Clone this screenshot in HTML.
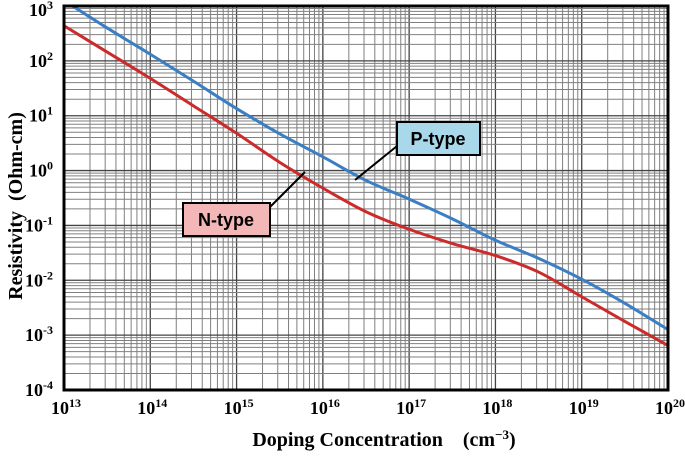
<!DOCTYPE html>
<html><head><meta charset="utf-8"><style>
body{margin:0;background:#fff}
text{font-family:"Liberation Serif",serif;font-weight:bold;white-space:pre}
</style></head><body>
<svg id="chart" width="685" height="452" viewBox="0 0 685 452" xmlns="http://www.w3.org/2000/svg">
<g id="grid"></g>
<g id="curves"></g>
<rect x="64" y="6" width="604" height="384" fill="none" stroke="#000" stroke-width="3"/>
<g id="labels"></g>
<text transform="translate(22,206) rotate(-90)" text-anchor="middle" font-size="20" xml:space="preserve">Resistivity  (Ohm-cm)</text>
<text x="384" y="446" text-anchor="middle" font-size="20" xml:space="preserve">Doping Concentration    (cm<tspan baseline-shift="super" font-size="13">−3</tspan>)</text>
<line x1="402" y1="142" x2="355" y2="180" stroke="#000" stroke-width="2"/>
<line x1="265" y1="212" x2="305" y2="172" stroke="#000" stroke-width="2"/>
<g>
<rect x="397" y="122" width="83" height="33" fill="#a8d8ea" stroke="#000" stroke-width="2"/>
<text x="438" y="145" text-anchor="middle" font-size="18" style="font-family:'Liberation Sans',sans-serif">P-type</text></g>
<g>
<rect x="183" y="203" width="87" height="33" fill="#f4b7b7" stroke="#000" stroke-width="2"/>
<text x="226" y="226" text-anchor="middle" font-size="18" style="font-family:'Liberation Sans',sans-serif">N-type</text></g>
</svg>
<script>
const dopingLog = [13,13.5,14,14.5,15,15.5,16,16.5,17,17.5,18,18.5,19,19.5,20];
const pTypeLog = [3.1,2.6,2.12,1.63,1.13,0.67,0.25,-0.18,-0.52,-0.88,-1.27,-1.6,-1.98,-2.42,-2.9];
const nTypeLog = [2.64,2.16,1.68,1.18,0.68,0.15,-0.32,-0.75,-1.07,-1.33,-1.55,-1.85,-2.3,-2.75,-3.19];
const xDecades = [13,14,15,16,17,18,19,20];
const yDecades = [3,2,1,0,-1,-2,-3,-4];
const X0=64,X1=668,Y0=6,Y1=390;
const xs=v=>X0+(v-13)/7*(X1-X0);
const ys=v=>Y0+(3-v)/7*(Y1-Y0);
const NS="http://www.w3.org/2000/svg";
const grid=document.getElementById('grid');
function ln(x1,y1,x2,y2,c,w){const l=document.createElementNS(NS,'line');l.setAttribute('x1',x1);l.setAttribute('y1',y1);l.setAttribute('x2',x2);l.setAttribute('y2',y2);l.setAttribute('stroke',c);l.setAttribute('stroke-width',w);grid.appendChild(l);return l;}
for(let d=13;d<20;d++)for(let m=1;m<10;m++){const x=xs(d+Math.log10(m));const l=ln(x,Y0,x,Y1,m==1?'#444':'#808080',m==1?1.3:1);

}
for(let d=-4;d<3;d++)for(let m=1;m<10;m++){const y=ys(d+Math.log10(m));const l=ln(X0,y,X1,y,m==1?'#444':'#808080',m==1?1.3:1);

}
const curves=document.getElementById('curves');
function path(vals,color,name){
 const p=dopingLog.map((d,i)=>[xs(d),ys(vals[i])]);
 let s=`M${p[0][0]},${p[0][1]}`;
 for(let i=0;i<p.length-1;i++){const a=p[Math.max(0,i-1)],b=p[i],c=p[i+1],e=p[Math.min(p.length-1,i+2)];
  s+=` C${b[0]+(c[0]-a[0])/6},${b[1]+(c[1]-a[1])/6} ${c[0]-(e[0]-b[0])/6},${c[1]-(e[1]-b[1])/6} ${c[0]},${c[1]}`;}
 const el=document.createElementNS(NS,'path');el.setAttribute('d',s);el.setAttribute('fill','none');el.setAttribute('stroke',color);el.setAttribute('stroke-width',3);
 el.setAttribute('clip-path','url(#clip)');
 
 
 curves.appendChild(el);}
const defs=document.createElementNS(NS,'defs');defs.innerHTML='<clipPath id="clip"><rect x="64" y="6" width="604" height="384"/></clipPath>';document.getElementById('chart').prepend(defs);
path(nTypeLog,'#cc2b2b','n-type-curve');
path(pTypeLog,'#3a7fc4','p-type-curve');
const lab=document.getElementById('labels');
function tx(x,y,exp,anchor){const t=document.createElementNS(NS,'text');t.setAttribute('x',x);t.setAttribute('y',y);t.setAttribute('text-anchor',anchor);t.setAttribute('font-size','18');
 t.innerHTML=`10<tspan baseline-shift="super" font-size="12">${exp}</tspan>`;lab.appendChild(t);return t;}
xDecades.forEach(d=>{const t=tx(xs(d)+2,414,d,'middle');

});
yDecades.forEach(d=>{const t=tx(53,Math.max(ys(d)+6,16),d<0?'-'+(-d):d,'end');

});
</script>
</body></html>
